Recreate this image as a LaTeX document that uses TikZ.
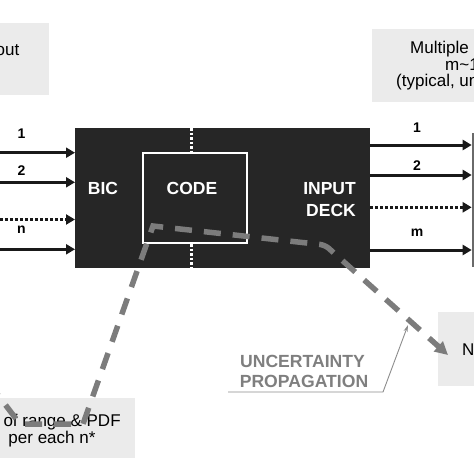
\documentclass[tikz,border=0pt]{standalone}
\usepackage{fontspec}
\setmainfont{Liberation Sans}
\usetikzlibrary{arrows.meta}
\definecolor{boxgray}{HTML}{EBEBEB}
\definecolor{darkbox}{HTML}{262626}
\definecolor{dashgray}{HTML}{7C7C7C}
\definecolor{textgray}{HTML}{7F7F7F}
\definecolor{bargray}{HTML}{6A6A6A}
\begin{document}
\begin{tikzpicture}[x=1pt,y=-1pt,
  graybox/.style={fill=boxgray,draw=none,inner sep=0,anchor=north west},
  sig/.style={line width=3pt,draw=black!90,-{Triangle[length=9pt,width=10pt]}},
  dotsig/.style={sig,dash pattern=on 3pt off 2pt},
  lbl/.style={font=\bfseries\fontsize{14}{14}\selectfont,inner sep=0,anchor=base},
  plain/.style={font=\fontsize{17}{17}\selectfont,inner sep=0,anchor=base west},
  inbox/.style={font=\bfseries\fontsize{17.5}{17.5}\selectfont,inner sep=0,text=white,anchor=base},
  uptext/.style={font=\bfseries\fontsize{17.6}{17.6}\selectfont,inner sep=0,text=textgray,anchor=base},
  propag/.style={line width=5.5pt,draw=dashgray,dash pattern=on 17pt off 12pt,
    -{Triangle[length=13pt,width=13pt,fill=dashgray]}},
  pointer/.style={line width=0.9pt,draw=textgray!90,-{Stealth[length=7pt,width=4pt]}}]
\useasboundingbox (0,0) rectangle (474,474);
\clip (0,0) rectangle (474,474);

% grey boxes
\node[graybox,minimum width=80pt,minimum height=72pt] (inbox) at (-31,23) {};
\node[graybox,minimum width=140pt,minimum height=73pt] (outbox) at (372,29) {};
\node[graybox,minimum width=150pt,minimum height=60pt] (pdfbox) at (-15,398) {};
\node[graybox,minimum width=60pt,minimum height=74pt] (resbox) at (438,312) {};

% texts of grey boxes
\node[plain,anchor=base east] (tin) at (19.5,55) {out};
\node[plain] (tout1) at (410,53.5) {Multiple};
\node[plain] (tout2) at (445,70) {m\textasciitilde 1};
\node[plain] (tout3) at (396,86.5) {(typical, un};
\node[plain] (tpdf1) at (3.3,426.5) {of range \& PDF};
\node[plain] (tpdf2) at (8.3,443) {per each n*};
\node[plain] (tres) at (462,355) {N};

% main black box
\node[fill=darkbox,draw=none,inner sep=0,anchor=north west,minimum width=295pt,minimum height=140pt] (bic) at (75,128) {};
\node[draw=white,line width=2pt,fill=darkbox,inner sep=0,minimum width=104pt,minimum height=90pt] (code) at (195,198) {};
\draw[white,line width=3pt,dash pattern=on 2.5pt off 2pt] (191,128) -- (191,152);
\draw[white,line width=3pt,dash pattern=on 2.5pt off 2pt] (191,244) -- (191,268);
\node[inbox] (tbic) at (103,194.3) {BIC};
\node[inbox] (tcode) at (192,194.3) {CODE};
\node[inbox,anchor=base east] (tinput) at (356,194.3) {INPUT};
\node[inbox,anchor=base east] (tdeck) at (356,216) {DECK};

% input arrows
\coordinate (i1) at (-5,152.7);
\coordinate (i2) at (-5,182.3);
\coordinate (i3) at (-5,219.5);
\coordinate (in) at (-5,249.3);
\draw[sig] (i1) -- (i1 -| bic.west);
\draw[sig] (i2) -- (i2 -| bic.west);
\draw[dotsig] (i3) -- (i3 -| bic.west);
\draw[sig] (in) -- (in -| bic.west);
\node[lbl] (l1) at (21.5,138.5) {1};
\node[lbl] (l2) at (21.5,175.5) {2};
\node[lbl] (ln) at (21.5,233.5) {n};

% right bar and output arrows
\coordinate (bartop) at (472.7,133);
\coordinate (barbot) at (472.7,267);
\draw[bargray,line width=2pt] (bartop) -- (barbot);
\coordinate (o1) at (370,145);
\coordinate (o2) at (370,175);
\coordinate (o3) at (370,207.3);
\coordinate (om) at (370,250);
\draw[sig,shorten >=1pt] (o1) -- (o1 -| bartop);
\draw[sig,shorten >=1pt] (o2) -- (o2 -| bartop);
\draw[dotsig,shorten >=1pt] (o3) -- (o3 -| bartop);
\draw[sig,shorten >=1pt] (om) -- (om -| bartop);
\node[lbl] (r1) at (417,132.5) {1};
\node[lbl] (r2) at (417,170) {2};
\node[lbl] (rm) at (417,236) {m};

% uncertainty propagation path
\coordinate (pa) at (-12,382);
\coordinate (pb) at (20,424);
\coordinate (pc) at (83,424);
\coordinate (pd) at (153,226);
\coordinate (pe) at (325,245);
\coordinate (pf) at (448,355);
\draw[propag] (pa) -- (pb) -- (pc) -- (pd) [rounded corners=5pt] -- (pe) -- (pf);

% label and pointer
\node[uptext] (tunc) at (302.5,367) {UNCERTAINTY};
\node[uptext] (tprop) at (304,387) {PROPAGATION};
\coordinate (ptr0) at (228,392);
\coordinate (ptr1) at (383,392);
\coordinate (ptr2) at (408,325);
\draw[pointer] (ptr0) -- (ptr1) -- (ptr2);
\end{tikzpicture}
\end{document}
